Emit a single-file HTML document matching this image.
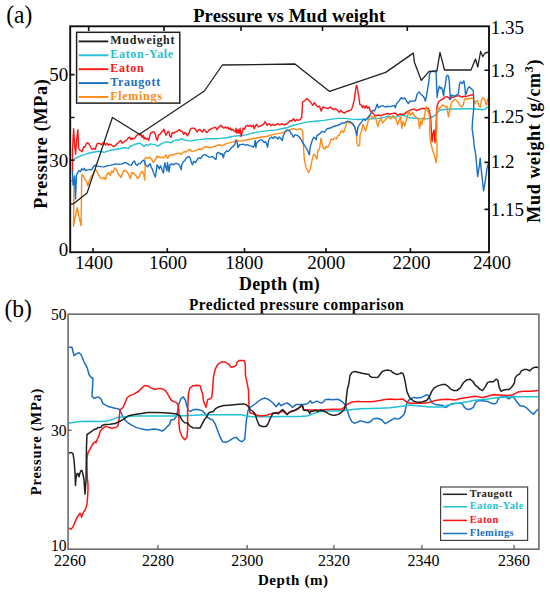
<!DOCTYPE html>
<html><head><meta charset="utf-8"><title>Pressure vs Mud weight</title>
<style>html,body{margin:0;padding:0;background:#fff;}body{width:550px;height:594px;overflow:hidden;font-family:"Liberation Serif",serif;}svg{display:block}</style>
</head><body>
<svg width="550" height="594" viewBox="0 0 550 594" font-family="'Liberation Serif', serif">
<defs><clipPath id="ca"><rect x="70" y="27" width="419" height="225"/></clipPath><clipPath id="cb"><rect x="68" y="314" width="471" height="235"/></clipPath></defs>
<text transform="translate(6.2,23.3) scale(1,1.07)" font-size="23.5">(a)</text>
<text transform="translate(289.2,22) scale(1,1.05)" font-size="18.6" font-weight="bold" text-anchor="middle" letter-spacing="0.1">Pressure vs Mud weight</text>
<polyline points="70,160.4 73,159.9 78.1,156.9 83.2,154.8 88.2,153.3 93.3,152.3 98.3,151.3 104,152.3 107,151.3 110.1,150.3 113.1,149.7 116.1,149.2 119.2,148.7 122.2,148.2 125.2,147.7 128.2,148.7 129.8,146.7 131.3,145.7 133.3,145.2 135.3,144.2 137.3,143.7 139.4,143.2 140,143.4 142,144.4 144.1,146.5 146.1,144.4 148.1,145.5 150.2,143.9 152.2,144.4 154.3,144.4 156.3,145.5 158.3,146 160.4,144.4 162.4,143.4 164.4,142.4 166.5,141.9 168.5,142.4 170.5,142.9 172.6,141.4 174.6,140.4 176.7,139.9 178.7,140.4 180.7,138.8 182.8,139.3 184.8,139.9 186.8,140.4 188.9,140.9 192,140.7 196.4,139.9 200.7,139.4 205.1,139 209.5,138.6 213.8,138.7 218.2,138.6 222.5,138.1 226.9,137.7 231.3,136.8 235.6,135.9 236,136 241.1,135.5 246.2,134.9 251.3,133.4 256.4,132.4 261.5,131.4 266.5,130.9 271.6,130.4 276.7,129.9 281.8,128.8 286.9,127.8 290,126.3 298.4,124.1 306.8,122.1 315.3,121.2 323.7,120.4 332.1,119.1 338,118.4 344.7,118.4 351.5,119.1 358.2,119.5 365,119.1 371.7,118.8 378.4,118.4 385.2,117.1 388,116.1 391.8,117.2 397.7,116.6 403.6,115.4 409.5,117.7 415.4,118.3 421.2,118.9 427.1,118.9 430.7,117.7 434.2,116 436,114.7 437.6,112.5 439.8,110.3 442.6,109.8 446.9,109.2 452.4,109 457.9,109 463.4,108.7 468.8,108.7 474.3,109 479.8,109.2 483,109.8 484.7,109.2 486.3,108.1 488.5,107 490,106.5" fill="none" stroke="#1fc1d3" stroke-width="1.4" stroke-linejoin="round" stroke-linecap="round" clip-path="url(#ca)"/>
<polyline points="72.5,171.5 72.5,150 73.6,128.6 74.6,144.2 75.6,154.3 76.6,140 77.9,129.6 78.6,148.3 80.1,150.3 82.1,151.8 83.7,146.8 84.7,147.3 86.2,143.7 87.7,142.7 89.2,144.2 90.7,147.3 92.2,149.3 93.8,148.3 95.3,149.3 96.8,144.2 98.3,143.2 99.8,143.7 101.3,144.7 102.8,143.2 104,142.2 105.5,145.2 107,143.2 108.5,145.2 110.1,144.2 111.6,145.2 113.6,146.7 115.1,145.7 117.1,143.7 119.2,141.7 120.7,140.7 122.2,143.2 123.7,142.2 125.2,140.7 126.7,140.2 128.2,138.1 129.8,137.1 130.8,139.6 131.8,138.1 132.8,139.1 134.3,138.6 135.8,136.6 137.3,135.1 138.8,133.6 140,135.3 141,134.3 142,137.3 143.1,135.3 144.1,138.8 145.1,137.3 146.1,139.3 147.6,138.3 148.7,140.4 149.7,136.3 150.7,133.2 152.2,132.2 153.7,131.7 155.3,134.3 156.3,138.3 157.3,140.4 158.3,135.3 159.9,134.3 161.4,132.2 162.9,130.7 163.9,129.2 164.9,132.2 166,135.3 167,133.2 168,131.2 169,132.2 170,136.3 171.1,137.3 172.1,132.7 173.6,133.2 175.1,132.2 176.7,131.7 178.2,130.7 179.7,129.7 180.7,131.2 182.3,131.7 183.8,134.3 184.8,132.7 185.8,133.2 187.4,135.8 188.9,133.2 190.4,129.2 191.9,128.1 193.7,128.1 195.5,129.4 197.2,132 198.5,129.8 199.9,129.4 201.2,131.1 202.5,132 203.8,129.4 205.1,130.3 206.4,132.5 207.7,132 209,129.8 210.8,129 212.5,128.1 214.3,127.7 215.6,127.2 216.9,129.8 218.2,127.7 219.9,125.9 221.2,125.5 222.5,127.2 223.8,128.1 225.2,127.2 226.5,128.1 227.8,127.2 229.1,129.4 230.4,128.1 231.7,130.3 233,129.4 234.3,131.1 235.6,132 236,128.3 237,133.4 238,129.3 239.1,133.4 240.1,128.3 241.1,136.5 242.1,132.4 243.1,128.3 244.1,129.3 245.7,126.3 247.2,125.3 248.7,126.3 250.3,125.3 251.8,126.8 253.3,125.3 254.3,128.8 255.3,126.3 256.4,124.3 257.4,125.3 258.4,126.8 259.9,126.3 261.5,125.3 263.5,124.3 265,121.7 266,123.2 267.1,125.3 268.1,124.3 269.6,123.7 271.1,125.8 272.7,124.3 274.2,125.3 275.7,124.8 277.8,123.7 279.8,124.8 281.8,123.7 283.9,124.8 285.9,124.3 287.9,123.2 290,120.4 291.7,121.2 293.4,118.7 295.1,121.2 296.7,119.6 298.4,120.4 300.1,119.6 301.8,117 302.6,101.9 304.3,101 306.8,98.5 309.4,101 311,102.7 312.7,105.3 314.4,102.7 316.1,105.3 317.8,106.9 319.5,106.1 321.1,111.1 322.8,106.9 325.4,107.8 327.9,108.6 330.4,106.9 333,109.5 335.5,108.6 338,111 339.3,112.3 340.7,110.3 342.7,112.3 344.7,113 346.1,111.7 348.1,111 350.1,110.3 351.5,109.6 352.8,105.6 354.2,100.2 355.3,92.1 356.2,86.1 356.9,85.4 357.9,90.8 358.9,97.5 359.8,104.3 361.2,104.9 362.3,107.6 363.6,105.6 365,108.3 366.3,105.6 367.6,108.3 369,107 370.3,111 372.4,113 374.4,115 376.4,115.7 378.4,115 381.1,115.7 383.8,114.4 386.5,113.7 388,113.4 389.4,114.4 391.8,113.6 395.3,113 397.7,115.4 400,114 403.6,114.4 407.1,111.9 410.6,110.1 414.2,108.9 416.5,110.7 418.9,109.5 422.4,108.3 426,108.9 428.3,108.3 429.5,110.7 430.7,118.9 431.3,130 432,141.8 433,133.6 434,130 435,142.7 436,128.2 436.6,111.9 437.1,106 438.7,101.6 440.4,100.5 442,99.4 443.7,98.3 445.3,97.2 446.9,96.7 448.6,97.7 450.2,99.4 451.9,97.2 453.5,97.2 455.1,96.7 456.8,96.1 459,95.6 460.6,96.7 462.3,97.2 463.9,96.1 465.5,96.7 467.2,96.1 468.8,95.6 471,95 473.2,95" fill="none" stroke="#ff1414" stroke-width="1.4" stroke-linejoin="round" stroke-linecap="round" clip-path="url(#ca)"/>
<polyline points="69.6,181.4 72.4,180.3 73.5,179.2 74,186.9 73.5,226.2 75.1,217.5 77.3,207.6 78.9,216.4 81.1,225.7 81.7,175.9 82.2,174.3 83.8,177 85.5,180.3 86.6,181.4 87.7,185.8 88.8,182.5 89.9,179.2 91.5,175.9 93.1,174.3 94.8,170.5 95.9,169.9 97.5,172.7 99.1,175.9 100.8,178.1 102.4,178.7 104,177.5 105.5,179.5 107,174.5 108.5,172.5 110.1,175.5 111.6,171 113.1,172.5 114.6,167.9 116.1,169.4 118.1,173.5 119.7,176 121.2,177.5 122.7,172.5 124.2,170.5 126.2,171 128.2,173.5 130.3,178.5 131.8,172.5 133.8,173.5 135.8,175.5 137.8,178.5 139.4,176.5 140.9,172.5 142.4,171.5 144,175.5 144.6,180 145,174 145.1,158.2 146.6,157.7 148.1,158.2 149.7,157.2 150.7,158.7 151.7,159.2 152.7,161.8 153.7,162.3 154.8,160.2 155.8,159.2 156.8,156.2 157.8,157.2 158.8,156.7 160.4,157.7 161.9,157.2 163.4,158.2 164.9,156.2 166,155.1 167,157.7 168,158.2 169,155.6 170.5,155.1 172.1,154.6 173.6,155.1 175.1,154.1 176.7,153.6 178.2,153.6 179.7,153.1 181.2,154.6 182.8,152.6 184.3,151.6 185.8,152.1 187.4,150.6 188.9,150 190.4,149.5 191.9,151.6 194.6,150.8 197.2,149.9 199.9,149 201.6,149.5 203.3,147.7 205.5,146.8 207.7,147.3 210.3,147.7 212.9,146.8 215.6,146 217.7,145.1 219.9,144.7 222.1,146 224.3,144.7 226.9,143.4 229.5,142.9 232.1,142.1 234.8,141.2 236,140 238,140.5 240.1,141.1 242.1,140.5 246.2,140 251.3,139 256.4,138 261.5,137 266.5,136.5 271.6,134.9 276.7,133.9 281.8,132.9 286.9,130.9 289,130.4 290,129.7 293.4,128.8 297.6,129.7 300.1,128.8 302.6,130.5 303.5,147.3 304.3,159.1 306,167.5 308.5,172.6 310.2,169.2 311.9,160.8 313.6,154.1 315.3,155.8 316.9,159.1 317.8,150.7 319.5,149 321.1,138.1 322.8,147.3 324.5,149 326.2,146.5 327.9,147.3 329.6,144 331.2,138.9 332.9,139.8 334.6,138.1 336.3,138.9 338,135.6 339.3,135.3 341.4,130.5 343.4,132.6 344.7,129.9 346.1,124.5 347.4,121.8 348.8,122.5 350.8,123.1 352.8,124.5 354.8,127.2 356.2,132.6 356.9,143.3 358.2,146 359.6,145.4 360.2,133.9 361.6,131.2 362.9,124.5 364.3,127.2 365.6,131.2 367,125.8 368.3,120.4 369.7,116.4 371,115.7 373,117.7 375.1,116.4 376.4,120.4 377.8,126.5 379.1,121.8 381.1,118.4 382.5,123.1 384.5,120.4 386.5,118.4 388,117.7 388.8,117.2 390.6,118.9 393,115.4 394.1,117.7 395.9,118.9 397.7,124.8 398.9,121.3 400.6,116.6 401.8,128.4 403,121.3 404.7,126 405.9,121.3 407.7,115.4 408.9,111.3 410.6,115.4 412.4,112.4 414.2,115.4 416.5,117.7 418.3,118.9 419.5,128.4 420.7,121.3 421.8,124.8 423,117.7 424.2,120.1 425.4,109.5 426.6,106.6 427.7,111.9 428.3,109.5 429.5,116.6 430,121 429.5,132 430.5,141 432,148 434,154.5 435,157.3 436,162.7 437,155.5 437,142.7 436,137.3 437,128.2 436.8,118 437.2,109.5 438.2,108.1 439.3,109.2 440.9,107 442.6,104.9 444.2,106 445.8,107 446.9,106 448,114.7 448.6,116.9 449.3,112.5 450.2,108.1 451.3,103.2 452.4,101.6 453.5,100.5 455.1,99.4 456.8,100.5 458.4,102.7 460.1,106 461.7,107 463.4,104.9 464.4,99.4 465.5,98.3 467.2,99.4 468.8,98.3 470.5,98.8 472.1,97.7 473.7,99.4 474.8,103.8 475.9,101.6 477,100.5 478.1,102.7 479.2,106 480.3,107 481.4,100.5 483,97.7 484.7,99.4 485.8,103.8 486.9,104.9 487.4,99.4 488.5,98.3 490,98" fill="none" stroke="#ff8a14" stroke-width="1.4" stroke-linejoin="round" stroke-linecap="round" clip-path="url(#ca)"/>
<polyline points="72.5,171.5 73,185 74,183.5 74.6,176 75.5,199 76.5,175 77.8,172.7 78.9,170.5 80.6,171.6 81.7,168.8 83.3,169.9 84.4,168.3 85.5,170.5 87.7,169.9 89.9,169.4 91.5,169.9 93.1,167.2 95.3,165 97.5,166.1 100.8,166.6 104,166.9 107,165.9 110.1,165.4 113.1,164.6 116.1,163.9 119.2,164.4 122.2,163.9 125.2,162.4 127.2,163.4 129.3,164.9 131.3,165.4 132.8,162.4 134.3,160.9 135.8,164.4 137.3,165.4 138.8,163.4 140,163.8 141.5,161.8 143.1,160.2 144.1,160.7 145.1,163.8 146.1,165.3 147.6,166.8 149.2,164.8 150.2,163.8 151.2,167.4 152.2,168.9 153.2,171.9 154.3,175 155.3,177 156.3,170.9 157.1,164.8 158.3,166.8 159.3,168.9 160.4,165.8 161.4,167.9 162.4,170.9 163.4,173 164.4,164.8 164.9,162.8 166,167.9 167,170.9 167.5,162.8 168.5,167.9 169,171.9 170,164.8 171.6,163.8 173.1,164.8 174.6,163.8 176.2,163.3 177.7,163.8 179.2,164.8 180.2,166.8 181.2,169.9 181.8,164.8 183.3,161.8 184.8,160.7 186.3,158.2 187.9,156.7 189.4,156.7 190.4,158.7 191.4,162.8 192.4,164.8 193.7,161.2 195.5,162.6 196.8,160.4 198.1,158.2 199.4,157.8 200.7,158.6 202,156.4 203.3,155.1 204.7,154.7 206,155.1 207.3,156 208.6,156.9 209.9,157.3 211.2,156.9 212.5,156.4 213.8,157.8 215.1,159.1 216,159.5 216.9,153.4 218.2,152.5 219.5,153 220.8,154.3 222.1,153.8 223.4,157.8 224.3,153.4 225.6,152.1 226.9,150.8 228.2,151.6 229.5,149.9 230.8,148.6 232.1,147.3 233.4,146 234.8,144.2 236,140.5 237,141.6 238,147.7 239.6,144.6 241.1,144.6 243.1,144.1 245.2,145.1 247.2,144.6 249.2,145.6 251.3,146.2 253.3,147.2 254.3,145.6 255.3,140.5 255.9,147.7 256.4,143.6 257.9,141.6 259.4,140.5 261,139.5 262.5,140.5 264,142.6 265.5,141.6 266.5,143.6 267.6,147.2 268.6,140.5 270.1,138 271.6,137 273.2,138.5 274.7,136.5 276.2,137.5 277.8,139 279.3,137 280.8,138.5 282.3,140.5 283.4,135.5 284.9,132.4 286.4,130.4 287.9,129.9 289.5,130.9 291,133.4 291.7,133.9 293.4,137.2 295.1,134.7 297.6,135.6 300.1,138.1 302.6,142.3 305.2,146.5 307.7,150.7 309.4,154.9 310.2,147.3 311.9,141.4 313.6,137.2 315.3,138.1 316.1,139.8 316.9,135.6 319.5,133.9 322,131.3 324.5,132.2 327,128.8 330.4,128 333.8,126.3 337.1,125.5 340,124.5 342,122.9 344.1,123.1 346.1,121.8 348.1,121.1 350.1,121.8 352.2,123.1 354.2,125.8 355.5,129.9 356.9,135.3 357.9,127.2 359.6,124.5 361.6,121.8 363.6,119.1 365.6,120.4 367.6,117.7 370.3,114.4 372.4,110.3 374.4,111 376,107.6 377.1,104.3 378.4,107.6 380.5,106.3 382.5,105.6 385.2,107 388,106.3 389.4,106.6 391.8,106.2 394.1,105.4 395.3,107.7 396.5,103.6 398.9,101.2 401.2,97.7 403,98.9 404.7,97.7 406.5,101.2 408.3,103.6 410,101.2 413,101 415.4,100.7 417.1,94.2 418.9,91.8 420.7,94.2 422.4,95.4 424.2,97.7 425.4,101.2 426.6,95.4 427.7,88.3 428.9,81.2 429.5,74.1 430.7,71.8 433,71.2 434.8,71.8 436,70.6 437.1,97.2 438.2,90.6 439.3,86.3 440.4,88.4 441.5,87.4 442.6,90.6 443.7,96.1 444.2,89.5 445.3,85.2 446.4,76.4 447.5,75.3 448.6,76.4 449.3,81.9 449.9,91.7 450.2,99.4 451,96.1 451.9,95 453.5,96.1 455.1,95.6 456.8,95 458.4,93.9 459.5,84.1 460.6,81.9 462.3,83.5 463.9,80.8 465,88.4 465.5,95 466.6,92.8 467.7,88.4 469.4,86.8 471,88.4 472.1,89.5 473.2,90.6 473.7,97.2 473.7,109.2 473.1,115 472.6,120.2 472.1,128.6 473.5,138.7 474.3,147.1 474.8,148.8 476,157.2 476.8,167.3 477.7,176.6 478.6,170 479.4,165.7 480.2,158.1 481,167.3 481.9,175.8 483.6,190.9 485.3,180.8 486.9,169 487.8,164.8 488.6,167.3 490,170" fill="none" stroke="#1a6fc2" stroke-width="1.4" stroke-linejoin="round" stroke-linecap="round" clip-path="url(#ca)"/>
<polyline points="70,203.8 73.5,203.8 87.1,192.9 112.4,117.5 139.4,134.3 204.4,91 222.3,65 294.9,64 329.6,91.4 385.7,72.4 413.3,53.1 414.5,62.5 421.3,80.4 429.1,71.3 436.9,70.9 440,52.4 444.5,70 471,70 475.5,59 477.8,67 480.6,51.5 482.8,56.6 485,53 489,52" fill="none" stroke="#231f20" stroke-width="1.3" stroke-linejoin="round" stroke-linecap="round" clip-path="url(#ca)"/>
<rect x="70.2" y="26.3" width="418.8" height="225.9" fill="none" stroke="#111" stroke-width="1.9"/>
<path d="M93,252V248 M167.3,252V248 M244.5,252V248 M326,252V248 M410.4,252V248 M88.7,27V31 M164,27V31 M241,27V31 M322.5,27V31 M407.3,27V31 M70,74.6H74.5 M70,117.5H74.5 M70,160.3H74.5 M489,70.2H484.5 M489,117.6H484.5 M489,162.4H484.5 M489,209.4H484.5" stroke="#111" stroke-width="1.6" fill="none"/>
<text transform="translate(93.9,269.4) scale(1,1.04)" font-size="19" text-anchor="middle">1400</text>
<text transform="translate(167.9,269.4) scale(1,1.04)" font-size="19" text-anchor="middle">1600</text>
<text transform="translate(244.3,269.4) scale(1,1.04)" font-size="19" text-anchor="middle">1800</text>
<text transform="translate(326.3,269.4) scale(1,1.04)" font-size="19" text-anchor="middle">2000</text>
<text transform="translate(411.5,269.4) scale(1,1.04)" font-size="19" text-anchor="middle">2200</text>
<text transform="translate(492,269.4) scale(1,1.04)" font-size="19" text-anchor="middle">2400</text>
<text transform="translate(68.3,81) scale(1,1.04)" font-size="19" text-anchor="end">50</text>
<text transform="translate(68.3,166.6) scale(1,1.04)" font-size="19" text-anchor="end">30</text>
<text transform="translate(68.3,256.3) scale(1,1.04)" font-size="19" text-anchor="end">0</text>
<text transform="translate(490.7,34.4) scale(1,1.04)" font-size="19">1.35</text>
<text transform="translate(490.7,76.8) scale(1,1.04)" font-size="19">1.3</text>
<text transform="translate(490.7,123.3) scale(1,1.04)" font-size="19">1.25</text>
<text transform="translate(490.7,168) scale(1,1.04)" font-size="19">1.2</text>
<text transform="translate(490.7,215.8) scale(1,1.04)" font-size="19">1.15</text>
<text transform="translate(46.6,143.7) rotate(-90)" font-size="18" font-weight="bold" text-anchor="middle" letter-spacing="0.75">Pressure (MPa)</text>
<text transform="translate(539.9,140.8) rotate(-90)" font-size="18" font-weight="bold" text-anchor="middle" letter-spacing="0.65">Mud weight (g/cm<tspan font-size="12" dy="-7">3</tspan><tspan dy="7">)</tspan></text>
<text transform="translate(279.6,290) scale(1,1.02)" font-size="17.8" font-weight="bold" text-anchor="middle" letter-spacing="0.4">Depth (m)</text>
<rect x="76.6" y="32.3" width="103.2" height="70.8" fill="#fff" stroke="#222" stroke-width="1.5"/>
<line x1="78.7" y1="41.4" x2="108.3" y2="41.4" stroke="#231f20" stroke-width="1.9"/>
<text transform="translate(110.3,44) scale(1,1.08)" font-size="12" font-weight="bold" letter-spacing="0.7" fill="#231f20">Mudweight</text>
<line x1="78.7" y1="55.3" x2="108.3" y2="55.3" stroke="#1fc1d3" stroke-width="1.9"/>
<text transform="translate(110.3,57.9) scale(1,1.08)" font-size="12" font-weight="bold" letter-spacing="0.7" fill="#1fc1d3">Eaton-Yale</text>
<line x1="78.7" y1="69.2" x2="108.3" y2="69.2" stroke="#ff1414" stroke-width="1.9"/>
<text transform="translate(110.3,71.8) scale(1,1.08)" font-size="12" font-weight="bold" letter-spacing="0.7" fill="#ff1414">Eaton</text>
<line x1="78.7" y1="83.1" x2="108.3" y2="83.1" stroke="#1a6fc2" stroke-width="1.9"/>
<text transform="translate(110.3,85.7) scale(1,1.08)" font-size="12" font-weight="bold" letter-spacing="0.7" fill="#1a6fc2">Traugott</text>
<line x1="78.7" y1="97.0" x2="108.3" y2="97.0" stroke="#ff8a14" stroke-width="1.9"/>
<text transform="translate(110.3,99.6) scale(1,1.08)" font-size="12" font-weight="bold" letter-spacing="0.7" fill="#ff8a14">Flemings</text>
<text transform="translate(4.4,317.3) scale(1,1.07)" font-size="23.5">(b)</text>
<text transform="translate(296.6,309.7) scale(1,1.05)" font-size="15.2" font-weight="bold" text-anchor="middle" letter-spacing="0.5">Predicted pressure comparison</text>
<polyline points="69,347.3 72,347.3 74,355.5 77,353.6 79,352.7 81,354.5 84,361.8 87,367.3 89,374.5 91,377.3 93,378.2 92,396.4 94,398.2 97,397.3 99,397.3 101,399.1 103,403.6 108,406.4 115,408.2 119,409.1 120,410.6 122.2,415 124.4,419.4 127.3,422.3 131.6,425.2 136,427.4 141.8,429.1 147.6,430 153.5,429.1 157.8,429.5 162.2,431 165.1,429.1 167.3,426.6 169.5,424.5 170.9,420.1 173.8,419.4 176,417.2 177.5,411.4 178.9,404.1 181.1,398.3 183.3,396.8 185.5,400.5 186.9,406.3 188.4,410.6 190.5,411.4 192.7,409.9 195.6,409.2 200,409.9 201.7,410.6 204.3,412.6 205.9,414.8 207.6,417.3 210.2,419 212.7,419.9 215.2,424.1 217.7,430.8 220.3,437.5 222.8,441.8 226.1,442.3 229.5,440.6 232.9,438.4 236.2,437.2 238.8,440.1 242.1,441.8 244.7,439.2 245.5,430.8 246.3,420.7 248,410.6 250,407.5 252,406 255,404 258,401.5 261,399.5 264.2,398.1 267,398.7 270,400.5 273,403 276.2,406.8 278.9,403 281.1,405.7 283.8,404.1 287.1,403 289.8,404.6 292.5,407.4 295.8,404.6 300,404.6 304.4,404.6 307.6,403.5 310.4,400.8 312,403 314.2,402.4 316.9,401.1 319.6,402.4 321.8,403 323.4,401.9 325.1,399.7 328.4,399.2 332.7,399.7 337.1,399.2 340.3,400.3 343.1,402.4 345.3,405.2 346.9,409 348.5,414.4 350.2,418.8 352.3,422.1 354.5,423.2 356.7,422.6 360,421 361,420.9 364,421.8 368,422.7 371,421.3 373,419.1 376,418.2 379,418.7 382,420 384,422.4 385,423.6 387,422.7 390,420.9 393,419.1 395,418.2 398,419.1 400,418.2 402,416.4 404,414.5 405,411.8 406,406.4 407,402.7 409,400 411.3,398.6 413.8,397.4 417.6,398 421.5,397.4 424,396.1 426.5,394.8 428.4,395.4 430.4,399.9 432.3,403.1 435.4,404.4 439.3,405 443.1,405.6 445,407.5 446.9,406.9 449.4,405 452,403.7 455.8,403.3 460.9,403.3 462.8,404.4 464.1,406.9 466,408.8 468.5,409.4 471.1,408.8 473.6,406.9 475,403.3 477.5,400.8 482.6,400.8 487.7,401.4 491.5,403.3 494.7,404 496.6,402.7 498.5,398.3 501.7,396.7 505.5,396.7 508.7,398.9 510.6,397.6 512.5,396.3 514.4,398.3 517,402.1 520.2,405.9 523.3,405.9 527.2,408.4 531,412.3 533.5,414.2 536.1,411 538.6,409.1 541,408.5" fill="none" stroke="#1a6fc2" stroke-width="1.5" stroke-linejoin="round" stroke-linecap="round" clip-path="url(#cb)"/>
<polyline points="68,423.3 75,422.2 80,421.5 90,421.3 100,421.5 108,420.9 113,419.1 118,417.3 120,417.2 127.3,416.5 134.5,416 149.1,416 163.6,416 178.2,416 200,415 211.8,414.8 228.7,414.8 242.1,414.8 245.5,415.7 250,416.5 260,416.8 270,416.7 285,416.5 300,416.4 306.5,416.1 309.8,415 313.1,413.6 317.4,412.3 321.8,411.4 327.3,411 332.7,411 338.2,411 343.6,410.6 349.1,409.9 354.5,409.2 360,408.8 370,408.5 380,408.2 390,407.8 400,406.4 410,405 422.7,406.3 429.1,407.1 435.4,407.1 443.1,406.9 448.2,405 454.5,403.7 460.9,402.8 467.3,401.8 473.6,400.5 475,400.2 487.7,398.9 500.4,397.2 513.2,396.7 541,396.7" fill="none" stroke="#1fc1d3" stroke-width="1.5" stroke-linejoin="round" stroke-linecap="round" clip-path="url(#cb)"/>
<polyline points="69,528.2 71,529.4 73,526.7 75,522.1 77,517.6 79,514.5 80,513.3 81,514.5 81.5,517.3 82,516 83,513 85,510 86,507.7 87,504 87.5,497.9 88,490.3 88,484.2 87.3,478 87,466 87,458.2 88,452.7 90,449.1 93,443.6 95,441.8 96,442.7 97,440 99,435.5 100,431.8 102,429.1 104,427.3 106,426.4 109,427.6 112,428.2 115,427.6 117,426.9 118,425.5 119,420 120,409.9 122.9,407.7 125.1,402.6 127.3,397.5 130.2,395.4 134.5,393.9 138.9,391 142.5,387.4 144.7,385.5 147.6,385.9 151.3,388.1 154.9,389.5 158.5,388.4 162.2,388.8 165.1,390.3 167.3,393.2 169.5,397.5 171.6,400.5 174.5,401.9 176.7,402.6 178.2,405.5 178.9,411.4 178.9,423 179.6,430.3 181.8,436.1 184.7,439.7 186.9,437.5 187.6,430.3 187.6,411.4 188.4,393.9 189.8,388.1 192.7,385.9 196.4,385.2 200,385.5 200.9,388.7 202.6,393.8 203.4,400.5 205.1,404.7 206,407.2 206.8,403.9 207.6,399.7 210.2,398.8 211.8,397.1 212.7,388.7 213.5,376.9 215.2,369.4 217.7,364.3 221.1,362.1 225.3,362.1 228.7,364.3 231.2,367.2 234.6,366.5 236.2,365.2 237.1,362.1 239.6,360.4 243.8,360.4 245.2,363.5 245.5,375.3 247.2,383.7 248.5,390.4 248.9,403.9 249.2,407.2 250,412.8 256.5,415 260.9,416.1 266.4,415.3 271.8,413.6 276.2,412.8 279.5,412.3 282.7,411.2 287.1,414.5 290.4,411.7 293.6,411.2 296.9,409.6 299.6,407.4 301.3,405.7 302.2,406.3 303.8,409.5 306.5,410.1 310.9,409.9 316.4,410.1 321.8,409.9 327.3,409.5 332.7,409.2 338.2,409.2 341.4,409 343.6,407.9 345.8,405.2 349.1,403.5 352.3,401.9 356.7,401.4 360,401.6 370,401.8 375,401.3 380,400.5 385,399.5 390,399.1 395,399.5 403,399.1 405,400.9 408,402.7 410,403.3 422.7,403.3 429.1,402.4 435.4,400.5 441.8,399.5 448.2,399.3 454.5,399.9 460.9,398.6 467.3,397.4 473.6,396.5 475,396.3 482.6,397.6 487.7,396.3 492.8,394.7 500.4,395.1 508.1,395.5 513.2,394.7 518.3,391.9 523.3,391.3 531,391.3 538.6,390.4 541,390.2" fill="none" stroke="#ff1414" stroke-width="1.5" stroke-linejoin="round" stroke-linecap="round" clip-path="url(#cb)"/>
<polyline points="68,453.6 71,452.4 73,453.6 74,460 75,472.7 75.5,485.5 76,478 77,473.6 78,473.6 79,476.7 80,472.7 81,470.6 82,470.6 83,474.5 84,479.7 85,494.1 86,480 86.5,445.5 87,434.5 90,432.7 94,429.5 96,429.1 98,427.6 101,427.3 102,425.5 105,424.5 110,424.2 115,423.6 120,421.3 124.4,418.6 128.7,415.7 134.5,414.6 141.8,413.5 147.6,412.5 156.4,412.5 163.6,412.8 170.9,413.3 176.7,414 179.6,415.7 182.5,420.8 184.7,422.7 187.6,423 189.8,425.9 192.7,427.7 197.1,428.1 200,428.1 201.7,424.9 204.3,419.9 206.8,416.5 208.5,413.1 211,412 213.5,411.4 215.2,408.9 218.6,406.9 223.6,405.6 228.7,405.2 233.7,404.7 238.8,404.2 243.8,403.9 246.3,404.7 248.9,407.2 250,409.5 253,411.5 255,414 257,420 259,425 262,426.5 266,426.5 268,424 270,419 272.9,413.4 276.2,412.8 278.4,413.9 280.5,411.2 282.7,409.6 284.9,411.7 287.1,414.5 289.3,412.3 291.5,411.2 294.7,410.1 298,408.5 300.2,406.8 301.8,405.2 302.9,406.3 303.5,410.1 305.5,410.6 308.2,410.6 309.8,413.4 310.9,411.2 313.1,411.2 315.3,410.3 317.4,411.2 319.6,410.6 321.8,410.3 325.1,411.7 328.4,413.6 331.6,415 334.9,415.3 338.2,414.4 341.4,412.3 344.2,409.5 345.8,405.2 346.3,398.1 347.4,389.4 348.5,385 349,382.7 350,375.5 352,372.4 355,371.5 358,372.2 362,373.3 366,374 369,374.5 370,376.4 372,377.3 376,377.6 378,377.3 380,374.5 382,371.8 385,370.4 388,370 391,370.9 393,372.7 395,373.6 397,374.5 400,373.6 401,372.7 403,373.6 404,376.4 405,380.9 406,386.4 407,391.8 409,396.4 410,398 413.8,401.2 417.6,402.4 422.7,401.8 426.5,400.5 429.1,397.4 431.6,391.6 434.2,387.8 438,385.9 441.8,384.6 445.6,384.6 448.2,386.5 450.7,389.1 453.9,390.6 457.1,390.4 460.3,387.8 463.4,382.7 466.6,379.9 469.8,379.2 473,381.5 475,384.9 477.5,386.8 480.1,389.4 482.6,390.6 485.2,386.8 487.7,382.4 490.3,381.7 493.4,381.7 496,379.2 497.9,380.4 499.2,387.4 501.1,391.3 503.6,390 506.8,389.4 509.4,389.4 511.9,386.8 514.4,383 515.1,377.9 517,375.4 519.5,374.1 521.4,370.9 524,369.6 527.2,369.6 529.7,370.9 531.6,369 533.5,367.7 536.1,367.1 538.6,367.7 541,368" fill="none" stroke="#231f20" stroke-width="1.5" stroke-linejoin="round" stroke-linecap="round" clip-path="url(#cb)"/>
<rect x="68.1" y="314.2" width="470.8" height="235" fill="none" stroke="#6e6b6c" stroke-width="1.6"/>
<path d="M158,549V545 M247.2,549V545 M334,549V545 M422,549V545 M514,549V545 M68,430.2H71.5" stroke="#6e6b6c" stroke-width="1.4" fill="none"/>
<text transform="translate(70,566) scale(1,1.03)" font-size="16" text-anchor="middle">2260</text>
<text transform="translate(158,566) scale(1,1.03)" font-size="16" text-anchor="middle">2280</text>
<text transform="translate(247.2,566) scale(1,1.03)" font-size="16" text-anchor="middle">2300</text>
<text transform="translate(334,566) scale(1,1.03)" font-size="16" text-anchor="middle">2320</text>
<text transform="translate(423.5,566) scale(1,1.03)" font-size="16" text-anchor="middle">2340</text>
<text transform="translate(514,566) scale(1,1.03)" font-size="16" text-anchor="middle">2360</text>
<text transform="translate(66.5,319.5) scale(1,1.03)" font-size="15.5" text-anchor="end">50</text>
<text transform="translate(66.5,436) scale(1,1.03)" font-size="15.5" text-anchor="end">30</text>
<text transform="translate(66.5,551.3) scale(1,1.03)" font-size="15.5" text-anchor="end">10</text>
<text transform="translate(41.4,441.5) rotate(-90)" font-size="14.5" font-weight="bold" text-anchor="middle" letter-spacing="0.78">Pressure (MPa)</text>
<text transform="translate(293.3,584.8) scale(1,1.04)" font-size="15" font-weight="bold" text-anchor="middle" letter-spacing="0.6">Depth (m)</text>
<rect x="440.6" y="487" width="87" height="53.4" fill="#fff" stroke="#444" stroke-width="1.2"/>
<line x1="443" y1="494.3" x2="467" y2="494.3" stroke="#231f20" stroke-width="1.5"/>
<text transform="translate(469.8,496.6) scale(1,1.06)" font-size="10.5" font-weight="bold" letter-spacing="0.45" fill="#231f20">Traugott</text>
<line x1="443" y1="506.8" x2="467" y2="506.8" stroke="#1fc1d3" stroke-width="1.5"/>
<text transform="translate(469.8,509.1) scale(1,1.06)" font-size="10.5" font-weight="bold" letter-spacing="0.45" fill="#1fc1d3">Eaton-Yale</text>
<line x1="443" y1="520.4" x2="467" y2="520.4" stroke="#ff1414" stroke-width="1.5"/>
<text transform="translate(469.8,522.7) scale(1,1.06)" font-size="10.5" font-weight="bold" letter-spacing="0.45" fill="#ff1414">Eaton</text>
<line x1="443" y1="533.5" x2="467" y2="533.5" stroke="#1a6fc2" stroke-width="1.5"/>
<text transform="translate(469.8,535.8) scale(1,1.06)" font-size="10.5" font-weight="bold" letter-spacing="0.45" fill="#1a6fc2">Flemings</text>
</svg>
</body></html>
